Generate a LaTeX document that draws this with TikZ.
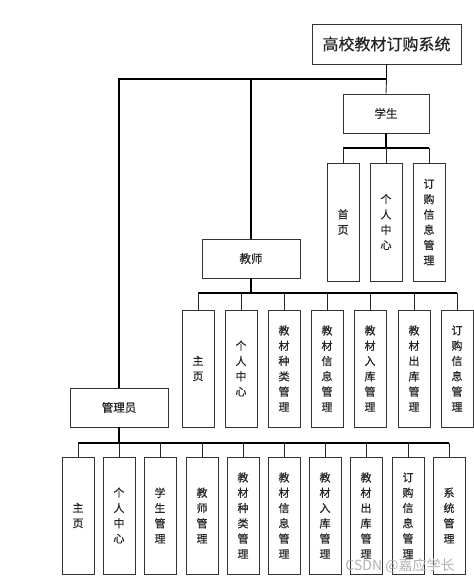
\documentclass[tikz,border=0pt]{standalone}
\usepackage{fontspec}
\newfontfamily\cjk[FakeBold=0.6]{Noto Sans CJK SC}
\newfontfamily\cjkwm{Noto Sans CJK SC}
\begin{document}
\begin{tikzpicture}[x=1pt,y=-1pt,
  box/.style={draw=black!80, line width=0.9pt, fill=white, inner sep=0pt, align=center, text=black!85},
  rootbox/.style={box, minimum width=149, minimum height=40, font=\cjk\fontsize{16}{18}\selectfont},
  midbox/.style={box, minimum width=98, minimum height=39, font=\cjk\fontsize{11.5}{14}\selectfont},
  leaf/.style={box, minimum width=32, minimum height=117, font=\cjk\fontsize{11}{15.3}\selectfont},
  trunk/.style={draw=black, line width=1.3pt},
  stub/.style={draw=black!85, line width=0.9pt}]
\useasboundingbox (0,0) rectangle (474,582);
\fill[white] (0,0) rectangle (474,582);
% nodes
\node[rootbox] (r) at (386.5,44) {高校教材订购系统};
\node[midbox, minimum width=86] (s) at (386,113.5) {学生};
\node[midbox] (t) at (251,258.5) {教师};
\node[midbox] (a) at (119,407.5) {管理员};
% student leaves
\node[leaf, minimum height=118] (s1) at (343,222) {首\\页};
\node[leaf, minimum height=118] (s2) at (386,222) {个\\人\\中\\心};
\node[leaf, minimum height=118] (s3) at (429,222) {订\\购\\信\\息\\管\\理};
% teacher leaves
\node[leaf] (t1) at (198,368.5) {主\\页};
\node[leaf] (t2) at (241,368.5) {个\\人\\中\\心};
\node[leaf] (t3) at (284,368.5) {教\\材\\种\\类\\管\\理};
\node[leaf] (t4) at (327,368.5) {教\\材\\信\\息\\管\\理};
\node[leaf] (t5) at (370,368.5) {教\\材\\入\\库\\管\\理};
\node[leaf] (t6) at (414,368.5) {教\\材\\出\\库\\管\\理};
\node[leaf] (t7) at (457,368.5) {订\\购\\信\\息\\管\\理};
% admin leaves
\node[leaf] (a1) at (78,515.5) {主\\页};
\node[leaf] (a2) at (119,515.5) {个\\人\\中\\心};
\node[leaf] (a3) at (160,515.5) {学\\生\\管\\理};
\node[leaf] (a4) at (202,515.5) {教\\师\\管\\理};
\node[leaf] (a5) at (243,515.5) {教\\材\\种\\类\\管\\理};
\node[leaf] (a6) at (284,515.5) {教\\材\\信\\息\\管\\理};
\node[leaf] (a7) at (325,515.5) {教\\材\\入\\库\\管\\理};
\node[leaf] (a8) at (366,515.5) {教\\材\\出\\库\\管\\理};
\node[leaf] (a9) at (408,515.5) {订\\购\\信\\息\\管\\理};
\node[leaf] (a10) at (449,515.5) {系\\统\\管\\理};
% bus levels
\coordinate (rbus) at (0,79);
\coordinate (sbus) at (0,148);
\coordinate (tbus) at (0,293);
\coordinate (abus) at (0,443);
% root connectors
\draw[trunk] (r.south) -- (r.south |- rbus) -| (a.north);
\draw[trunk] (r.south |- rbus) -| (t.north);
\draw[stub] (r.south |- rbus) -- (s.north);
% student
\draw[trunk] (s.south) -- (s.south |- sbus);
\draw[trunk] (s1.north |- sbus) -- (s3.north |- sbus);
\foreach \i in {1,2,3} \draw[stub] (s\i.north) -- (s\i.north |- sbus);
% teacher
\draw[trunk] (t.south) -- (t.south |- tbus);
\draw[trunk] (t1.north |- tbus) -- (t7.north |- tbus);
\foreach \i in {1,...,7} \draw[stub] (t\i.north) -- (t\i.north |- tbus);
% admin
\draw[trunk] (a.south) -- (a.south |- abus);
\draw[trunk] (a1.north |- abus) -- (a10.north |- abus);
\foreach \i in {1,...,10} \draw[stub] (a\i.north) -- (a\i.north |- abus);
% watermark
\node[text=black!30, font=\cjkwm\fontsize{14}{16}\selectfont, inner sep=0pt] (wm) at (400,566) {CSDN @嘉应学长};
\end{tikzpicture}
\end{document}
